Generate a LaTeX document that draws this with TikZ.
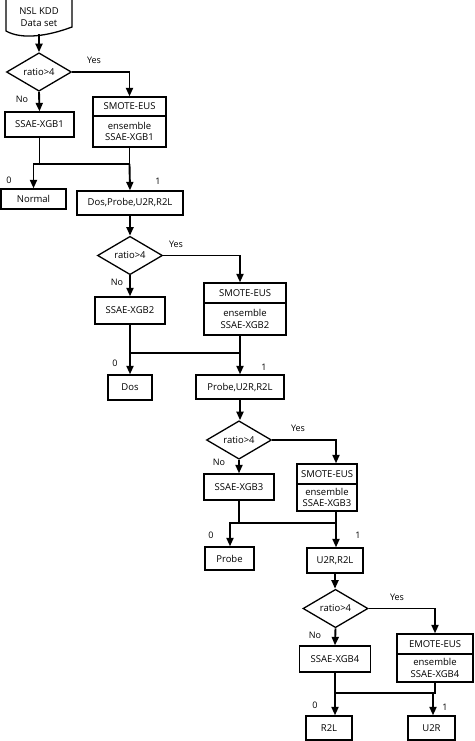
\documentclass[tikz,border=0pt]{standalone}
\usepackage{fontspec}
\setmainfont{Open Sans}
\usetikzlibrary{shapes.geometric,arrows.meta,calc}
\begin{document}
\begin{tikzpicture}[x=1pt,y=-1pt,
  box/.style={draw, line width=1.3pt, inner sep=1pt, align=center, font=\fontsize{9.5}{11.5}\selectfont},
  dec/.style={diamond, draw, line width=1.3pt, inner sep=0pt, minimum width=65pt, minimum height=34pt, font=\fontsize{9.5}{11}\selectfont},
  conn/.style={line width=1.9pt},
  arr/.style={conn, -{Triangle[length=8.5pt,width=7pt]}},
  lbl/.style={font=\fontsize{9}{10}\selectfont, inner sep=0pt}
]
\useasboundingbox (0,0) rectangle (474,741);

% ---------- level 1 ----------
\draw[line width=1.3pt] (6,-3) -- (6,31) .. controls (22,40) and (48,36) .. (72,27) -- (72,-3);
\node[align=center, inner sep=0pt, font=\fontsize{9.5}{12}\selectfont] (doc) at (39,17) {NSL KDD\\Data set};
\coordinate (docb) at (39,34.5);
\node[dec] (d1) at (39,72) {ratio>4};
\node[box, minimum width=69pt, minimum height=25pt] (ssae1) at (39.5,124.5) {SSAE-XGB1};
\node[box, minimum width=73pt, minimum height=19pt] (smote1a) at (129.5,106.5) {SMOTE-EUS};
\node[box, minimum width=73pt, minimum height=31pt] (smote1b) at (129.5,131.5) {ensemble\\SSAE-XGB1};
\node[box, minimum width=65pt, minimum height=20pt] (normal) at (33.5,199) {Normal};
\node[box, minimum width=106pt, minimum height=24pt] (dpur) at (130,203) {Dos,Probe,U2R,R2L};
\coordinate (j1L) at (33.5,164);
\coordinate (j1R) at (129.5,164);

\draw[arr] (docb) -- (d1.north);
\draw[arr] (d1.south) -- (ssae1.north);
\draw[arr] (d1.east) -| (smote1a.north);
\draw[conn] (ssae1.south) -- (ssae1.south |- j1L);
\draw[conn] (smote1b.south) -- (j1R);
\draw[conn, line cap=rect] (j1L) -- (j1R);
\draw[arr] (j1L) -- (normal.north);
\draw[arr] (j1R) -- (dpur.north);
\node[lbl] (no1) at (22,99) {No};
\node[lbl] (yes1) at (94,60) {Yes};
\node[lbl] (z1) at (9,180) {0};
\node[lbl] (o1) at (158,181) {1};

% ---------- level 2 ----------
\node[dec] (d2) at (130,255.5) {ratio>4};
\node[box, minimum width=70pt, minimum height=27pt] (ssae2) at (130,310.5) {SSAE-XGB2};
\node[box, minimum width=82pt, minimum height=20pt] (smote2a) at (245,293) {SMOTE-EUS};
\node[box, minimum width=82pt, minimum height=32pt] (smote2b) at (245,319) {ensemble\\SSAE-XGB2};
\node[box, minimum width=44pt, minimum height=25pt] (dos) at (130,387.5) {Dos};
\node[box, minimum width=88pt, minimum height=24pt] (pur) at (240,387) {Probe,U2R,R2L};
\coordinate (j2L) at (130,353);
\coordinate (j2R) at (240,353);

\draw[arr] (dpur.south) -- (d2.north);
\draw[arr] (d2.south) -- (ssae2.north);
\draw[arr] (d2.east) -| ([xshift=-5pt]smote2a.north);
\draw[conn] (ssae2.south) -- (j2L);
\draw[conn] ([xshift=-5pt]smote2b.south) -- (j2R);
\draw[conn, line cap=rect] (j2L) -- (j2R);
\draw[arr] (j2L) -- (dos.north);
\draw[arr] (j2R) -- (pur.north);
\node[lbl] (no2) at (117,282) {No};
\node[lbl] (yes2) at (176,244) {Yes};
\node[lbl] (z2) at (115,363) {0};
\node[lbl] (o2) at (264,367) {1};

% ---------- level 3 ----------
\node[dec, minimum height=33pt] (d3) at (239,440) {ratio>4};
\node[box, minimum width=70pt, minimum height=26pt] (ssae3) at (239,487) {SSAE-XGB3};
\node[box, minimum width=60pt, minimum height=20pt] (smote3a) at (327,474) {SMOTE-EUS};
\node[box, minimum width=60pt, minimum height=27pt] (smote3b) at (327,497.5) {ensemble\\SSAE-XGB3};
\node[box, minimum width=49pt, minimum height=23pt] (probe) at (229.5,558.5) {Probe};
\node[box, minimum width=56pt, minimum height=25pt] (ur) at (335,560.5) {U2R,R2L};
\coordinate (j3L) at (230,523);
\coordinate (j3R) at (336,523);

\draw[arr] (pur.south) -- (pur.south |- d3.north);
\draw[arr] (d3.south) -- (ssae3.north);
\draw[arr] (d3.east) -| ([xshift=9pt]smote3a.north);
\draw[conn] (ssae3.south) -- (ssae3.south |- j3L);
\draw[conn] ([xshift=9pt]smote3b.south) -- (j3R);
\draw[conn, line cap=rect] (j3L) -- (j3R);
\draw[arr] (j3L) -- (j3L |- probe.north);
\draw[arr] (j3R) -- (j3R |- ur.north);
\node[lbl] (no3) at (219,462) {No};
\node[lbl] (yes3) at (298,428) {Yes};
\node[lbl] (z3) at (211,535) {0};
\node[lbl] (o3) at (358,535) {1};

% ---------- level 4 ----------
\node[dec, minimum height=33pt] (d4) at (335.5,608.5) {ratio>4};
\node[box, minimum width=71pt, minimum height=26pt] (ssae4) at (335,659) {SSAE-XGB4};
\node[box, minimum width=76pt, minimum height=20pt] (smote4a) at (435,644) {EMOTE-EUS};
\node[box, minimum width=76pt, minimum height=28pt] (smote4b) at (435,668) {ensemble\\SSAE-XGB4};
\node[box, minimum width=46pt, minimum height=24pt] (r2l) at (329,728) {R2L};
\node[box, minimum width=47pt, minimum height=24pt] (u2r) at (431.5,728) {U2R};
\coordinate (j4L) at (335,693);
\coordinate (j4R) at (433,693);

\draw[arr] (ur.south) -- (ur.south |- d4.north);
\draw[arr] (d4.south) -- (ssae4.north);
\draw[arr] (d4.east) -| (smote4a.north);
\draw[conn] (ssae4.south) -- (j4L);
\draw[conn] (smote4b.south) -- (smote4b.south |- j4R);
\draw[conn, line cap=rect] (j4L) -- (smote4b.south |- j4R);
\draw[arr] (j4L) -- (j4L |- r2l.north);
\draw[arr] (j4R) -- (j4R |- u2r.north);
\node[lbl] (no4) at (315,635) {No};
\node[lbl] (yes4) at (397,597) {Yes};
\node[lbl] (z4) at (315,705) {0};
\node[lbl] (o4) at (445,707) {1};
\end{tikzpicture}
\end{document}
